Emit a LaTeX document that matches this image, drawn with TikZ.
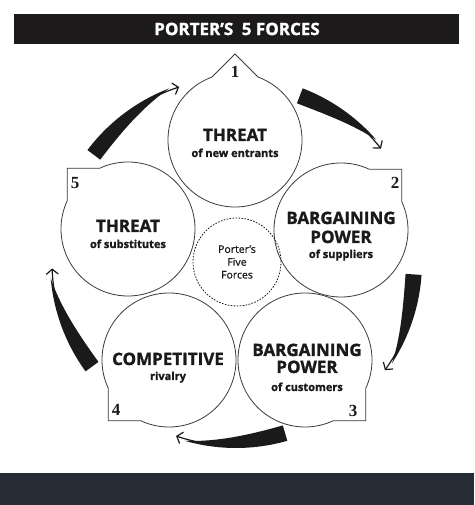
\documentclass[tikz,border=0pt]{standalone}
\usepackage{fontspec}
\setmainfont{Open Sans}
\newfontface\heavyfont{Open Sans Bold}[FakeBold=1.3]
\newfontface\midfont{Open Sans}[FakeBold=0.7]
\newfontfamily\numfont{Liberation Serif}
\usetikzlibrary{calc,arrows.meta}
\definecolor{titlebg}{HTML}{1C1A1B}
\definecolor{footbg}{HTML}{262B36}
\definecolor{lineclr}{HTML}{3A3A3A}
\definecolor{txtclr}{HTML}{1A1A1A}
\tikzset{
  shapeline/.style={draw=lineclr, line width=0.8pt, fill=white},
  headtxt/.style={font=\heavyfont\fontsize{17}{18}\selectfont, text=txtclr, anchor=base, inner sep=0pt},
  subtxt/.style={font=\heavyfont\fontsize{11}{13}\selectfont, text=txtclr, anchor=base, inner sep=0pt},
  numtxt/.style={font=\numfont\bfseries\fontsize{17}{18}\selectfont, text=txtclr, anchor=base, inner sep=0pt},
  coretxt/.style={font=\midfont\fontsize{10.5}{12.8}\selectfont, text=txtclr, align=center, circle, draw=txtclr, dash pattern=on 1.6pt off 1.4pt, line width=0.8pt, minimum size=88pt, inner sep=0pt},
  crescent/.style={fill=txtclr},
  headline/.style={line width=1.2pt, draw=txtclr, -{Straight Barb[length=5pt,width=12pt]}},
  titletxt/.style={font=\heavyfont\fontsize{17}{18}\selectfont, text=white, inner sep=0pt}
}
\newcommand{\forceshape}[3]{%
  \coordinate (#1) at (#2);
  \draw[shapeline] ($(#1)+({#3}:86)$) -- ($(#1)+({#3+20.2}:67)$)
     arc[start angle={#3+20.2}, delta angle=319.6, radius=67pt] -- cycle;}
\begin{document}
\begin{tikzpicture}[x=1pt,y=1pt]
\useasboundingbox (0,0) rectangle (474,505);
\fill[white] (0,0) rectangle (474,505);
% title
\fill[titlebg] (14,461) rectangle (459,491);
\node[titletxt] (title) at (237,476) {PORTER’S\hspace{0.5em}5 FORCES};
% footer
\fill[footbg] (0,0) rectangle (474,32);
% arrows
\coordinate (O) at (236,243);
\foreach \t/\h in {143/108, 69/38, -4/-36, -74/-109, -144/-178}{
  \pgfmathsetmacro\hh{\h+3}
  \pgfmathsetmacro\hs{\h+10}
  \fill[crescent, shift={(O)}] plot[domain=\hh:\t, samples=40] (\x:186)
     -- plot[domain=\t:\hh, samples=40] (\x:{186-16*sin(90*(\x-\hh)/(\t-\hh))}) -- cycle;
  \draw[headline, shift={(O)}] (\hs:184) arc[start angle=\hs, end angle=\h, radius=184pt];
}
% shapes
\forceshape{c1}{235,365}{90}
\forceshape{c2}{341,275}{45}
\forceshape{c3}{305,145}{-45}
\forceshape{c4}{169,145}{-135}
\forceshape{c5}{128,276}{135}
% core
\node[coretxt] (core) at (237,243) {Porter’s\\Five\\Forces};
% texts 1
\node[numtxt] (n1) at (235,427.5) {1};
\node[headtxt] (h1) at (235,364) {THREAT};
\node[subtxt] (s1) at (235,348) {of new entrants};
% texts 2
\node[numtxt] (n2) at (395,316.5) {2};
\node[headtxt] (h2a) at (341,281) {BARGAINING};
\node[headtxt] (h2b) at (341,262) {POWER};
\node[subtxt] (s2) at (341,247) {of suppliers};
% texts 3
\node[numtxt] (n3) at (353,88.5) {3};
\node[headtxt] (h3a) at (307,149) {BARGAINING};
\node[headtxt] (h3b) at (307,132) {POWER};
\node[subtxt] (s3) at (307,114) {of customers};
% texts 4
\node[numtxt] (n4) at (116,89.5) {4};
\node[headtxt] (h4) at (168,140) {COMPETITIVE};
\node[subtxt] (s4) at (168,125) {rivalry};
% texts 5
\node[numtxt] (n5) at (75,316.5) {5};
\node[headtxt] (h5) at (128,273) {THREAT};
\node[subtxt] (s5) at (128,257) {of substitutes};
\end{tikzpicture}
\end{document}
